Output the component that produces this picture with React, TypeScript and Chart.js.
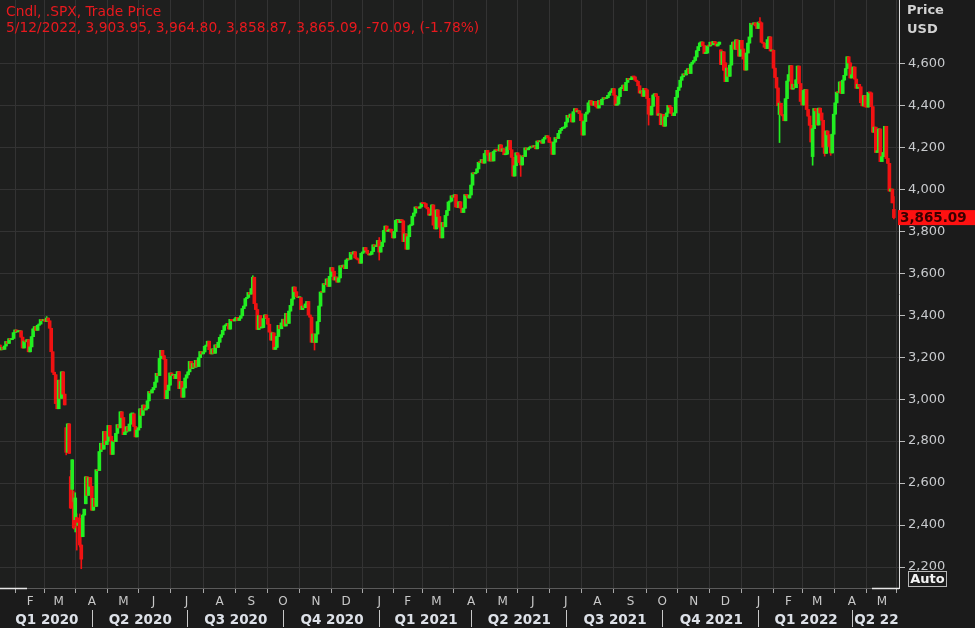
import { useEffect, useRef } from "react";
import { Chart, registerables } from "chart.js";
Chart.register(...registerables);

// Daily closes of .SPX, grouped by month (January first) for each year
const CLOSE_2020: number[][] = [
  [3257.85, 3234.85, 3246.28, 3237.18, 3253.05, 3274.7, 3265.35, 3288.13, 3283.15, 3289.29, 3316.81, 3329.62, 3320.79, 3321.75, 3325.54, 3295.47, 3243.63, 3276.24, 3273.4, 3283.66, 3225.52],
  [3248.92, 3297.59, 3334.69, 3345.78, 3327.71, 3352.09, 3357.75, 3379.45, 3373.94, 3380.16, 3370.29, 3386.15, 3373.23, 3337.75, 3225.89, 3128.21, 3116.39, 2978.76, 2954.22],
  [3090.23, 3003.37, 3130.12, 3023.94, 2972.37, 2746.56, 2882.23, 2741.38, 2480.64, 2711.02, 2386.13, 2529.19, 2398.1, 2409.39, 2304.92, 2237.4, 2447.33, 2475.56, 2630.07, 2541.47, 2626.65, 2584.59],
  [2470.5, 2526.9, 2488.65, 2663.68, 2659.41, 2749.98, 2789.82, 2761.63, 2846.06, 2783.36, 2799.55, 2874.56, 2823.16, 2736.56, 2799.31, 2797.8, 2836.74, 2878.48, 2863.39, 2939.51, 2912.43],
  [2830.71, 2842.74, 2868.44, 2848.42, 2881.19, 2929.8, 2930.32, 2870.12, 2820.0, 2852.5, 2863.7, 2953.91, 2922.94, 2971.61, 2948.51, 2955.45, 2991.77, 3036.13, 3029.73, 3044.31],
  [3055.73, 3080.82, 3122.87, 3112.35, 3193.93, 3232.39, 3207.18, 3190.14, 3002.1, 3041.31, 3066.59, 3124.74, 3113.49, 3115.34, 3097.74, 3117.86, 3131.29, 3050.33, 3083.76, 3009.05, 3053.24, 3100.29],
  [3115.86, 3130.01, 3179.72, 3145.32, 3169.94, 3152.05, 3185.04, 3155.22, 3197.52, 3226.56, 3215.57, 3224.73, 3251.84, 3257.3, 3276.02, 3235.66, 3215.63, 3239.41, 3218.44, 3258.44, 3246.22, 3271.12],
  [3294.61, 3306.51, 3327.77, 3349.16, 3351.28, 3360.47, 3333.69, 3380.35, 3373.43, 3372.85, 3381.99, 3389.78, 3374.85, 3385.51, 3397.16, 3431.28, 3443.62, 3478.73, 3484.55, 3508.01, 3500.31],
  [3526.65, 3580.84, 3455.06, 3426.96, 3331.84, 3398.96, 3339.19, 3340.97, 3383.54, 3401.2, 3385.49, 3357.01, 3319.47, 3281.06, 3315.57, 3236.92, 3246.59, 3298.46, 3351.6, 3335.47, 3363.0],
  [3380.8, 3348.42, 3408.6, 3360.97, 3419.44, 3446.83, 3477.14, 3534.22, 3511.93, 3488.67, 3483.34, 3483.81, 3426.92, 3443.12, 3435.56, 3453.49, 3465.39, 3400.97, 3390.68, 3271.03, 3310.11, 3269.96],
  [3310.24, 3369.16, 3443.44, 3510.45, 3509.44, 3550.5, 3545.53, 3572.66, 3537.01, 3585.15, 3626.91, 3609.53, 3567.79, 3581.87, 3557.54, 3577.59, 3635.41, 3629.65, 3638.35, 3621.63],
  [3662.45, 3669.01, 3666.72, 3699.12, 3691.96, 3702.25, 3672.82, 3668.1, 3663.46, 3647.49, 3694.62, 3701.17, 3722.48, 3709.41, 3694.92, 3687.26, 3690.01, 3703.06, 3735.36, 3727.04, 3732.04, 3756.07],
];
const CLOSE_2021: number[][] = [
  [3700.65, 3726.86, 3748.14, 3803.79, 3824.68, 3799.61, 3801.19, 3809.84, 3795.54, 3768.25, 3798.91, 3851.85, 3853.07, 3841.47, 3855.36, 3849.62, 3750.77, 3787.38, 3714.24],
  [3773.86, 3826.31, 3830.17, 3871.74, 3886.83, 3915.59, 3911.23, 3909.88, 3916.38, 3934.83, 3932.59, 3931.33, 3913.97, 3906.71, 3876.5, 3881.37, 3925.43, 3829.34, 3811.15],
  [3901.82, 3870.29, 3819.72, 3768.47, 3841.94, 3821.35, 3875.44, 3898.81, 3939.34, 3943.34, 3968.94, 3962.71, 3974.12, 3915.46, 3913.1, 3940.59, 3910.52, 3889.14, 3909.52, 3974.54, 3971.09, 3958.55, 3972.89],
  [4019.87, 4077.91, 4073.94, 4079.95, 4097.17, 4128.8, 4127.99, 4141.59, 4124.66, 4170.42, 4185.47, 4163.26, 4134.94, 4173.42, 4134.98, 4180.17, 4187.62, 4186.72, 4183.18, 4211.47, 4181.17],
  [4192.66, 4164.66, 4167.59, 4201.62, 4232.6, 4188.43, 4152.1, 4063.04, 4112.5, 4173.85, 4163.29, 4127.83, 4115.68, 4159.12, 4155.86, 4197.05, 4188.13, 4195.99, 4200.88, 4204.11],
  [4202.04, 4208.12, 4192.85, 4229.89, 4226.52, 4227.26, 4219.55, 4239.18, 4247.44, 4255.15, 4246.59, 4223.7, 4221.86, 4166.45, 4224.79, 4246.44, 4241.84, 4266.49, 4280.7, 4290.61, 4291.8, 4297.5],
  [4319.94, 4352.34, 4343.54, 4358.13, 4320.82, 4369.55, 4384.63, 4369.21, 4374.3, 4360.03, 4327.16, 4258.49, 4323.06, 4358.69, 4367.48, 4411.79, 4422.3, 4401.46, 4400.64, 4419.15, 4395.26],
  [4387.16, 4423.15, 4402.66, 4429.1, 4436.52, 4432.35, 4436.75, 4447.7, 4460.83, 4468.0, 4479.71, 4448.08, 4400.27, 4405.8, 4441.67, 4479.53, 4486.23, 4496.19, 4470.0, 4509.37, 4528.79, 4522.68],
  [4524.09, 4536.95, 4535.43, 4520.03, 4514.07, 4493.28, 4458.58, 4468.73, 4443.05, 4480.7, 4473.75, 4432.99, 4357.73, 4354.19, 4395.64, 4448.98, 4455.48, 4443.11, 4352.63, 4359.46, 4307.54],
  [4357.04, 4300.46, 4345.72, 4363.55, 4399.76, 4391.34, 4361.19, 4350.65, 4363.8, 4438.26, 4471.37, 4486.46, 4519.63, 4536.19, 4549.78, 4544.9, 4566.48, 4574.79, 4551.68, 4596.42, 4605.38],
  [4613.67, 4630.65, 4660.57, 4680.06, 4697.53, 4701.7, 4685.25, 4646.71, 4649.27, 4682.85, 4682.8, 4700.9, 4688.67, 4704.54, 4697.96, 4682.94, 4690.7, 4701.46, 4594.62, 4655.27, 4567.0],
  [4513.04, 4577.1, 4538.43, 4591.67, 4686.75, 4701.21, 4667.45, 4712.02, 4668.97, 4634.09, 4709.85, 4668.67, 4620.64, 4568.02, 4649.23, 4696.56, 4725.79, 4791.19, 4786.35, 4793.06, 4778.73, 4766.18],
];
const CLOSE_2022: number[][] = [
  [4796.56, 4793.54, 4700.58, 4696.05, 4677.03, 4670.29, 4713.07, 4726.35, 4659.03, 4662.85, 4577.11, 4532.76, 4482.73, 4397.94, 4410.13, 4356.45, 4349.93, 4326.51, 4431.85, 4515.55],
  [4546.54, 4589.38, 4477.44, 4500.53, 4483.87, 4521.54, 4587.18, 4504.08, 4418.64, 4401.67, 4471.07, 4475.01, 4380.26, 4348.87, 4304.76, 4225.5, 4288.7, 4384.65, 4373.94],
  [4306.26, 4386.54, 4363.49, 4328.87, 4201.09, 4170.7, 4277.88, 4259.52, 4204.31, 4173.11, 4262.45, 4357.86, 4411.67, 4463.12, 4461.18, 4511.61, 4456.24, 4520.16, 4543.06, 4575.52, 4631.6, 4602.45, 4530.41],
  [4545.86, 4582.64, 4525.12, 4481.15, 4500.21, 4488.28, 4412.53, 4397.45, 4446.59, 4392.59, 4391.69, 4462.21, 4459.45, 4393.66, 4271.78, 4296.12, 4175.2, 4183.96, 4287.5, 4131.93],
  [4155.38, 4175.48, 4300.17, 4146.87, 4123.34, 3991.24, 4001.05, 3935.18, 3865.09],
];
const YEARS = [2020, 2021, 2022];
const FIRST_OPEN = 3244.67;

// Opens that differ from the prior close (key: year-month:day-of-month index)
const OPEN_KEYS = ["2020-03:5", "2020-03:8", "2020-03:9", "2020-03:10", "2020-03:11", "2020-03:12", "2020-03:14", "2020-03:16", "2020-03:18", "2021-11:18", "2021-12:0", "2022-01:14", "2022-02:16", "2022-05:8"];
const OPEN_VALUES = [2863.89, 2630.86, 2569.99, 2508.59, 2425.66, 2436.5, 2431.94, 2344.44, 2501.29, 4664.63, 4602.82, 4356.32, 4155.77, 3903.95];

// Intraday extremes (wicks)
const WICK_KEYS = ["2020-02:11", "2020-03:5", "2020-03:8", "2020-03:9", "2020-03:10", "2020-03:11", "2020-03:12", "2020-03:14", "2020-03:15", "2020-03:16", "2020-06:5", "2020-09:1", "2020-10:21", "2021-01:0", "2021-05:12", "2021-09:12", "2022-01:1", "2022-01:14", "2022-02:16", "2022-03:5", "2022-03:9", "2022-05:8"];
const WICK_HIGHS = [3393.52, 2863.89, 2660.95, 2711.33, 2562.98, 2553.93, 2453.57, 2453.01, 2300.73, 2449.71, 3233.13, 3588.11, 3304.93, 3769.99, 4125.99, 4416.75, 4818.62, 4417.35, 4294.73, 4276.94, 4247.57, 3964.8];
const WICK_LOWS = [3378.83, 2734.43, 2478.86, 2492.37, 2380.94, 2367.04, 2280.52, 2295.56, 2191.86, 2344.44, 3196.0, 3535.23, 3233.94, 3662.71, 4061.41, 4305.91, 4774.27, 4222.62, 4114.65, 4157.87, 4161.72, 3858.87];

const MONTH_LETTERS = ["J", "F", "M", "A", "M", "J", "J", "A", "S", "O", "N", "D"];
const Y_TICKS = [2200, 2400, 2600, 2800, 3000, 3200, 3400, 3600, 3800, 4000, 4200, 4400, 4600];
const LAST_DATE = "5/12/2022";
const TITLE = "Cndl, .SPX, Trade Price";

const FONT = "'DejaVu Sans', Verdana, sans-serif";
const UP = "#22ee22";
const DOWN = "#f01212";

type MonthStart = { index: number; year: number; month: number };

function buildSeries() {
  const opens: number[] = [];
  const closes: number[] = [];
  const highs: number[] = [];
  const lows: number[] = [];
  const monthStarts: MonthStart[] = [];
  const all = [CLOSE_2020, CLOSE_2021, CLOSE_2022];
  let prev = FIRST_OPEN;
  let i = 0;
  all.forEach((months, yi) => {
    const year = YEARS[yi];
    months.forEach((days, m) => {
      monthStarts.push({ index: i, year, month: m });
      days.forEach((c, d) => {
        const key = `${year}-${String(m + 1).padStart(2, "0")}:${d}`;
        const ok = OPEN_KEYS.indexOf(key);
        const o = ok >= 0 ? OPEN_VALUES[ok] : prev;
        let h = Math.max(o, c);
        let l = Math.min(o, c);
        const wk = WICK_KEYS.indexOf(key);
        if (wk >= 0) {
          h = Math.max(h, WICK_HIGHS[wk]);
          l = Math.min(l, WICK_LOWS[wk]);
        }
        opens.push(o);
        closes.push(c);
        highs.push(h);
        lows.push(l);
        prev = c;
        i++;
      });
    });
  });
  return { opens, closes, highs, lows, monthStarts };
}

const SERIES = buildSeries();

const fmt = (v: number) =>
  v.toLocaleString("en-US", { minimumFractionDigits: 2, maximumFractionDigits: 2 });

export default function App() {
  const ref = useRef<HTMLCanvasElement>(null);
  const { opens, closes, highs, lows, monthStarts } = SERIES;
  const n = closes.length;
  const lastO = opens[n - 1];
  const lastH = highs[n - 1];
  const lastL = lows[n - 1];
  const lastC = closes[n - 1];
  const chg = lastC - closes[n - 2];
  const pct = (chg / closes[n - 2]) * 100;
  const legendLine = `${LAST_DATE}, ${fmt(lastO)}, ${fmt(lastH)}, ${fmt(lastL)}, ${fmt(lastC)}, ${fmt(chg)}, (${pct.toFixed(2)}%)`;

  useEffect(() => {
    if (!ref.current) return;
    const colors = closes.map((c, i) => (c >= opens[i] ? UP : DOWN));
    const bodyData = closes.map((c, i) => ({ x: i, y: [opens[i], c] }));
    const wickData = closes.map((_, i) => ({ x: i, y: [lows[i], highs[i]] }));

    const decor = {
      id: "decor",
      beforeDraw(chart: any) {
        const { ctx, chartArea, width, height } = chart;
        ctx.save();
        ctx.fillStyle = "#1b1b1b";
        ctx.fillRect(0, 0, width, height);
        ctx.fillStyle = "#1e1f1e";
        ctx.fillRect(chartArea.left, chartArea.top, chartArea.right - chartArea.left, chartArea.bottom - chartArea.top);
        ctx.restore();
      },
      afterDraw(chart: any) {
        const { ctx, chartArea } = chart;
        const xs = chart.scales.x;
        const ys = chart.scales.y;
        ctx.save();
        // scroll indicator segments on the x axis line
        ctx.strokeStyle = "#e6e6e6";
        ctx.lineWidth = 1.5;
        ctx.beginPath();
        ctx.moveTo(chartArea.left, chartArea.bottom + 0.5);
        ctx.lineTo(chartArea.left + 27, chartArea.bottom + 0.5);
        ctx.moveTo(chartArea.right - 27, chartArea.bottom + 0.5);
        ctx.lineTo(chartArea.right, chartArea.bottom + 0.5);
        ctx.stroke();

        // quarter labels
        const qStarts = monthStarts.filter((m) => m.month % 3 === 0);
        ctx.font = `bold 13.5px ${FONT}`;
        ctx.fillStyle = "#dde1e8";
        ctx.textBaseline = "middle";
        ctx.textAlign = "center";
        qStarts.forEach((q, k) => {
          const sx = xs.getPixelForValue(q.index);
          const next = qStarts[k + 1];
          const ex = next ? xs.getPixelForValue(next.index) : chartArea.right;
          const a = Math.max(sx, chartArea.left);
          const b = Math.min(ex, chartArea.right);
          const qn = Math.floor(q.month / 3) + 1;
          let label = `Q${qn} ${q.year}`;
          if (ctx.measureText(label).width > b - a - 4) label = `Q${qn} ${String(q.year).slice(2)}`;
          ctx.fillText(label, (a + b) / 2 + 1, 620);
          if (sx > chartArea.left + 2) {
            ctx.strokeStyle = "#c8c8c8";
            ctx.lineWidth = 1;
            ctx.beginPath();
            ctx.moveTo(Math.round(sx) + 0.5, 610);
            ctx.lineTo(Math.round(sx) + 0.5, 627);
            ctx.stroke();
          }
        });

        // last price tag
        const py = ys.getPixelForValue(lastC);
        ctx.fillStyle = "#ff1111";
        ctx.fillRect(chartArea.right - 1, py - 7.5, 80, 15);
        ctx.fillStyle = "#3a0000";
        ctx.textAlign = "left";
        ctx.font = `bold 13.5px ${FONT}`;
        ctx.fillText(fmt(lastC), chartArea.right + 1, py + 0.5);
        ctx.restore();
      },
    };

    const chart = new Chart(ref.current, {
      type: "bar",
      data: {
        datasets: [
          {
            label: "wick",
            data: wickData as any,
            backgroundColor: colors,
            barThickness: 1,
            grouped: false,
            order: 2,
            borderWidth: 0,
          } as any,
          {
            label: "body",
            data: bodyData as any,
            backgroundColor: colors,
            barThickness: 3,
            grouped: false,
            order: 1,
            borderWidth: 0,
            minBarLength: 1,
          } as any,
        ],
      },
      options: {
        animation: false,
        responsive: false,
        maintainAspectRatio: false,
        events: [],
        layout: { padding: 0 },
        plugins: { legend: { display: false }, tooltip: { enabled: false } },
        scales: {
          x: {
            type: "linear",
            min: 1,
            max: 598.4,
            offset: false,
            afterBuildTicks: (s: any) => {
              s.ticks = monthStarts.filter((m) => m.index >= 1).map((m) => ({ value: m.index }));
            },
            afterFit: (s: any) => {
              s.height = 40;
              s.paddingLeft = 0;
              s.paddingRight = 0;
            },
            ticks: {
              autoSkip: false,
              maxRotation: 0,
              minRotation: 0,
              padding: 2,
              color: "#c8c8c8",
              font: { family: FONT, size: 12 },
              callback: (v: any) => {
                const m = monthStarts.find((ms) => ms.index === v);
                return m ? MONTH_LETTERS[m.month] : "";
              },
            },
            grid: { color: "#333333", tickColor: "#a8a8a8", tickLength: 5, lineWidth: 1 },
            border: { color: "#5a5a5a", width: 1 },
          },
          y: {
            type: "linear",
            position: "right",
            min: 2100,
            max: 4902,
            afterBuildTicks: (s: any) => {
              s.ticks = Y_TICKS.map((v) => ({ value: v }));
            },
            afterFit: (s: any) => {
              s.width = 76;
              s.paddingTop = 0;
              s.paddingBottom = 0;
            },
            ticks: {
              padding: 3,
              color: "#c8cacd",
              font: { family: FONT, size: 13 },
              callback: (v: any) => Number(v).toLocaleString("en-US"),
            },
            grid: { color: "#333333", tickColor: "#bbbbbb", tickLength: 6, lineWidth: 1 },
            border: { color: "#dddddd", width: 1 },
          },
        },
      },
      plugins: [decor],
    });
    return () => chart.destroy();
  }, []);

  return (
    <div style={{ position: "absolute", left: 0, top: 0, width: 975, height: 628, background: "#1b1b1b", overflow: "hidden" }}>
      <canvas ref={ref} width={975} height={628} style={{ position: "absolute", left: 0, top: 0, width: 975, height: 628 }} />
      <div style={{ position: "absolute", left: 6, top: 3, color: "#e8191e", font: `13.8px ${FONT}`, lineHeight: "16px", whiteSpace: "nowrap" }}>
        <div>{TITLE}</div>
        <div>{legendLine}</div>
      </div>
      <div style={{ position: "absolute", left: 907, top: 0, color: "#d2d2d2", font: `bold 13px ${FONT}`, lineHeight: "19px" }}>
        <div>Price</div>
        <div>USD</div>
      </div>
      <div style={{ position: "absolute", left: 908, top: 571, width: 37, height: 14, border: "1px solid #b8b8b8", color: "#f2f2f2", font: `bold 13px ${FONT}`, lineHeight: "14px", textAlign: "center" }}>
        Auto
      </div>
    </div>
  );
}
